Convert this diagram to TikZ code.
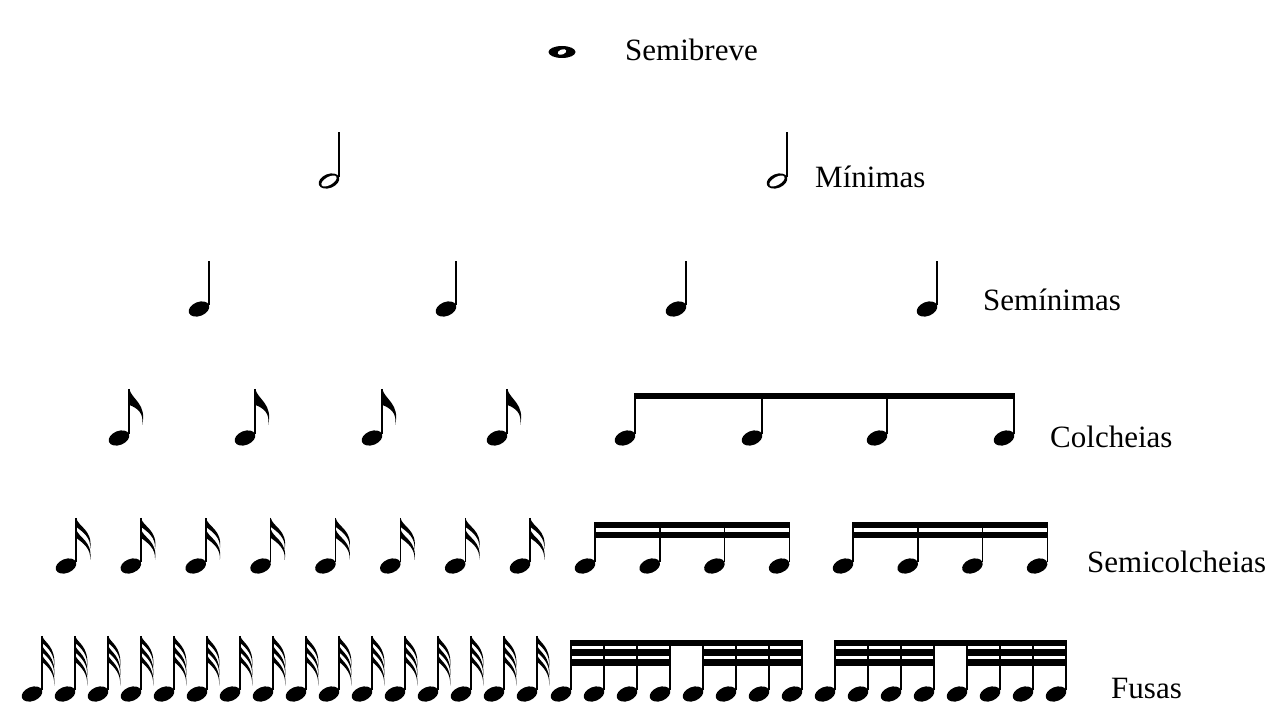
\documentclass[tikz,border=0pt]{standalone}
\usepackage{fontspec}
\setmainfont{Liberation Serif}
\usetikzlibrary{shapes.geometric}
\tikzstyle{notehead}=[ellipse,fill=black,inner sep=0pt,minimum width=21.5pt,minimum height=14pt,rotate=22]
\tikzstyle{notehole}=[ellipse,fill=white,inner sep=0pt,minimum width=17pt,minimum height=8pt,rotate=30]
\tikzstyle{notestem}=[line width=1.5pt]
\tikzstyle{notebeam}=[line width=6.5pt]
\tikzstyle{notename}=[anchor=base west,inner sep=0pt,font=\fontsize{31}{37}\selectfont]

\begin{document}
\begin{tikzpicture}[x=1pt,y=-1pt]
  \useasboundingbox (0,0) rectangle (1276,714);

  \def\dh{10};
  \def\flagA{(0,0) .. controls (3,11) and (18,15) .. (13,36) .. controls (15,24) and (8,19) .. (0,16) -- cycle}
  \def\flagB{(0,0) .. controls (2,9) and (17,12) .. (14,31) .. controls (15,20) and (7,14) .. (0,9) -- cycle}
  \def\flagC{(0,0) .. controls (2,7) and (14,10) .. (12,31) .. controls (13,19) and (6,12) .. (0,7) -- cycle}

  % semibreve
  \node[ellipse,fill=black,inner sep=0pt,minimum width=27pt,minimum height=12pt] (sb) at (562,52) {};
  \node[notehole,rotate=-10,minimum width=9pt,minimum height=5pt] (sbh) at (sb) {};

  % minimas
  \foreach \s/\name in {339/m1, 787/m2} {
    \node[notehead] (\name) at (\s-\dh,181) {};
    \node[notehole] (h\name) at (\name) {};
    \draw[notestem] (\name.east) -- ++(0,-45);
  }

  % seminimas
  \foreach \s [count=\i] in {209,456,686,937} {
    \node[notehead] (q\i) at (\s-\dh,309) {};
    \draw[notestem] (q\i.east) -- ++(0,-44);
  }

  % colcheias
  \foreach \s [count=\i] in {129,255,382,507} {
    \node[notehead] (c\i) at (\s-\dh,438) {};
    \draw[notestem] (c\i.east) -- ++(0,-45) coordinate (ct\i);
    \fill[shift={(ct\i)}] \flagA;
  }
  \foreach \s [count=\i] in {635,762,887,1014} {
    \node[notehead] (b\i) at (\s-\dh,438) {};
    \draw[notestem] (b\i.east) -- ++(0,-41) coordinate (bt\i);
  }
  \draw[notebeam] ([yshift=-3.2pt]bt1) -- ([yshift=-3.2pt]bt4);

  % semicolcheias
  \foreach \i in {0,...,7} {
    \node[notehead] (sc\i) at (76+64.86*\i-\dh,566) {};
    \draw[notestem] (sc\i.east) -- ++(0,-44) coordinate (sct\i);
    \fill[shift={(sct\i)}] \flagB;
    \fill[shift={(sct\i)},yshift=-11pt] \flagB;
  }
  \foreach \g/\x in {1/595, 2/853} {
    \foreach \i in {1,...,4} {
      \node[notehead] (sb\g\i) at (\x+64.7*\i-64.7-\dh,566) {};
      \draw[notestem] (sb\g\i.east) -- ++(0,-40) coordinate (sbt\g\i);
    }
    \draw[notebeam] ([yshift=-3.2pt]sbt\g1) -- ([yshift=-3.2pt]sbt\g4);
    \draw[notebeam] ([yshift=-13pt]sbt\g1) -- ([yshift=-13pt]sbt\g4);
  }

  % fusas
  \foreach \i in {0,...,15} {
    \node[notehead] (f\i) at (42+33*\i-\dh,694) {};
    \draw[notestem] (f\i.east) -- ++(0,-54) coordinate (ft\i);
    \foreach \k in {0,9.5,19}
      \fill[shift={(ft\i)},yshift=-\k pt] \flagC;
  }
  \foreach \g/\x in {1/571, 2/835} {
    \foreach \i in {1,...,8} {
      \node[notehead] (fb\g\i) at (\x+33*\i-33-\dh,694) {};
      \draw[notestem] (fb\g\i.east) -- ++(0,-50) coordinate (fbt\g\i);
    }
    \draw[notebeam] ([yshift=-3pt]fbt\g1) -- ([yshift=-3pt]fbt\g8);
    \foreach \k in {12.8,22.6} {
      \draw[notebeam] ([yshift=-\k pt]fbt\g1) -- ([yshift=-\k pt]fbt\g4);
      \draw[notebeam] ([yshift=-\k pt]fbt\g5) -- ([yshift=-\k pt]fbt\g8);
    }
  }

  % nomes
  \foreach \x/\y/\name/\label in {625/61/semibreve/Semibreve, 815/188/minimas/Mínimas,
      983/310/seminimas/Semínimas, 1050/447/colcheias/Colcheias,
      1087/572/semicolcheias/Semicolcheias, 1111/698/fusas/Fusas}
    \node[notename] (\name) at (\x,\y) {\label};

\end{tikzpicture}
\end{document}
